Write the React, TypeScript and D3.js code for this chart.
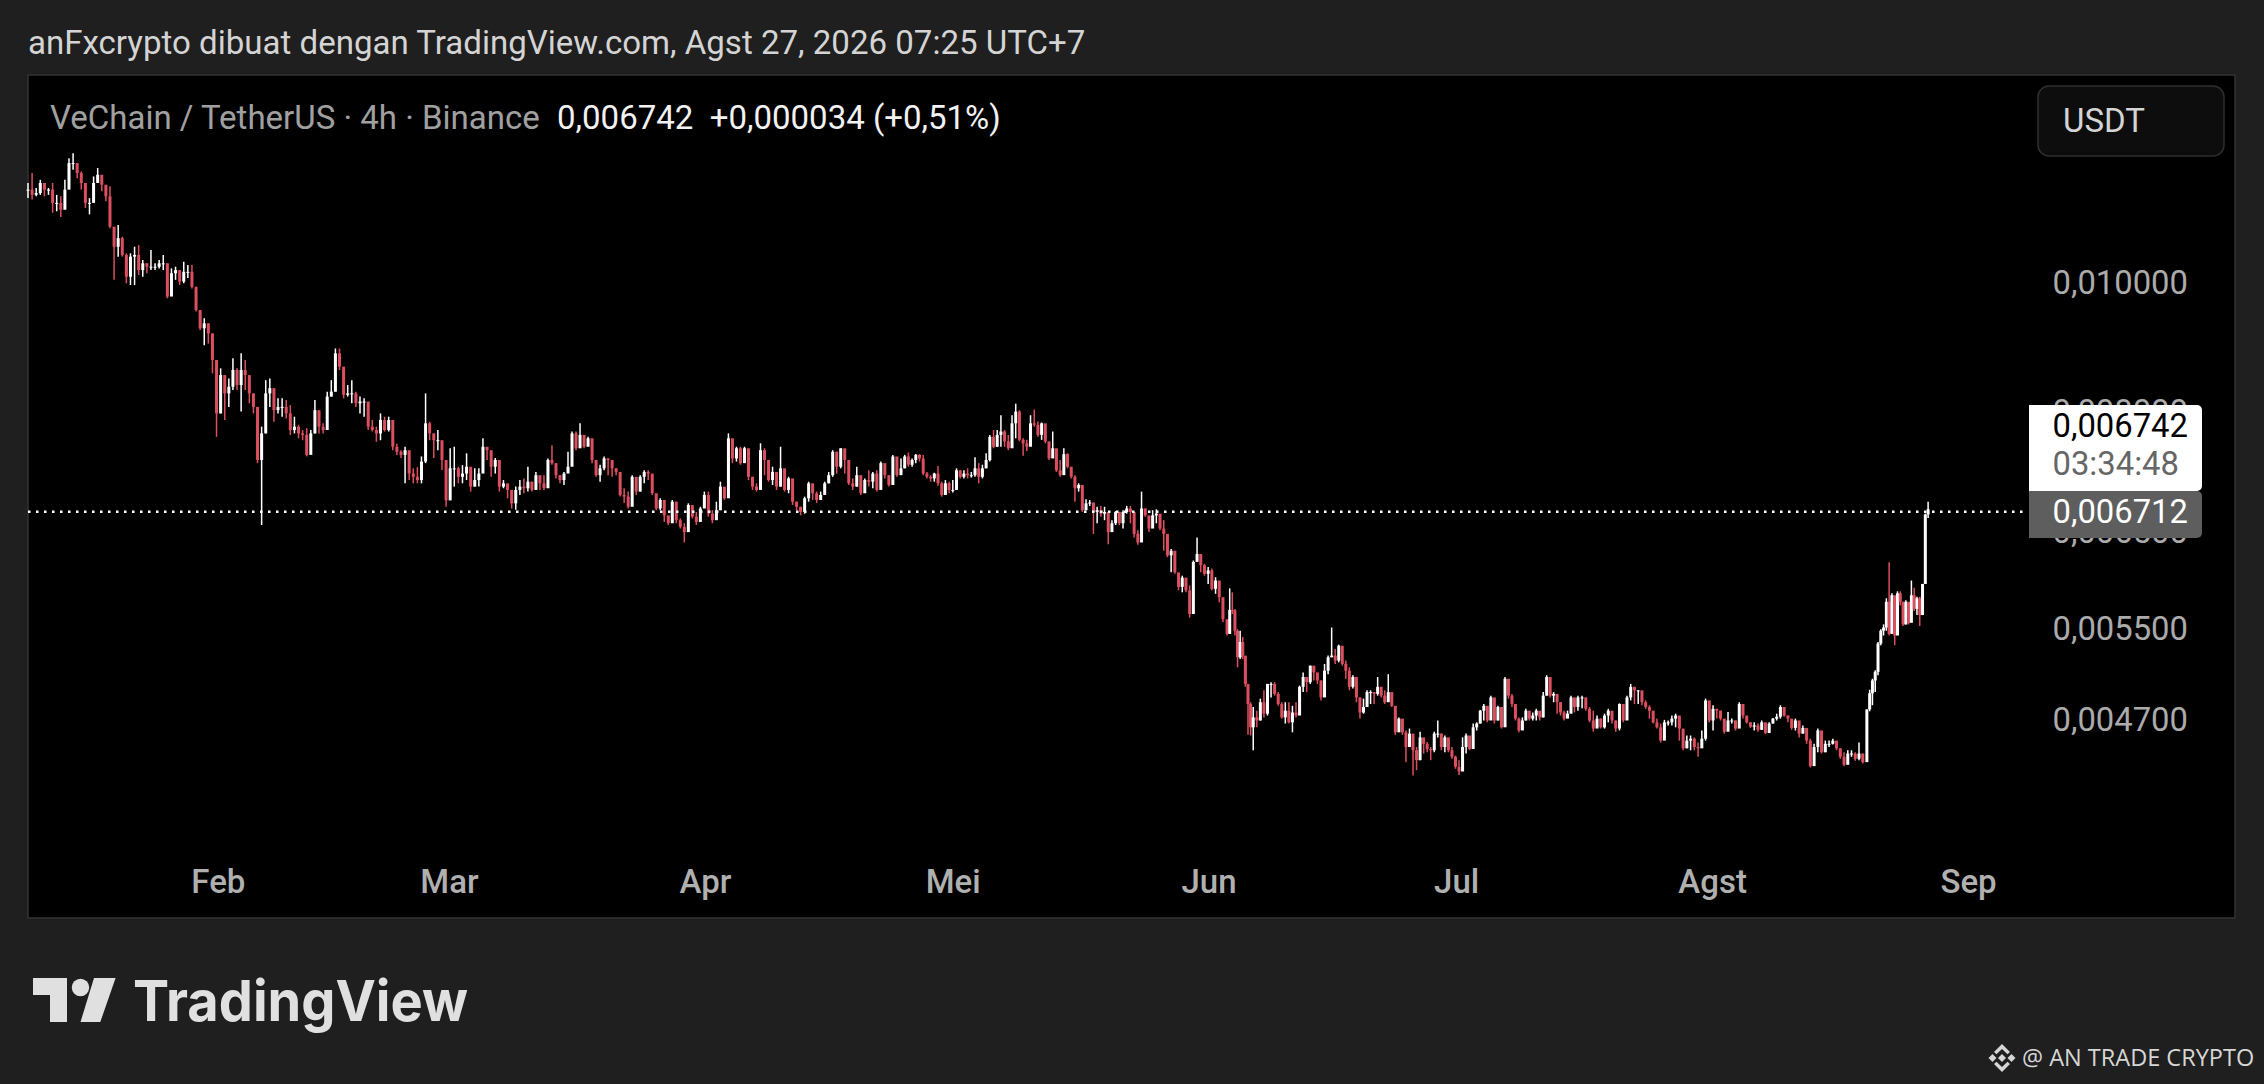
import { useEffect, useRef } from "react";
import { axisBottom, axisRight, formatLocale, scaleLinear, scaleLog, scaleUtc, select } from "d3";

const WIDTH = 2264;
const HEIGHT = 1084;
const PANE = { left: 28, right: 2235, top: 75, bottom: 918 };
const FONT = "Roboto, sans-serif";
const RED = "#dc4f5f";

// prices are in millionths of a USDT
const closes = [
  11710, 11605, 11640, 11845, 11710, 11710, 11445, 11445, 11310, 11710,
  12260, 12260, 12050, 11845, 11445, 11445, 11845, 12015, 11810, 11575,
  10985, 10610, 10770, 10460, 10075, 10430, 10460, 10190, 10310, 10250,
  10250, 10250, 10310, 10310, 9735, 10135, 10190, 9990, 10160, 10160,
  9900, 9510, 9215, 9295, 9135, 8725, 7955, 8500, 8235, 8330,
  8575, 8355, 8575, 8500, 8235, 8045, 7340, 7685, 8235, 8310,
  8000, 8045, 8045, 7955, 7730, 7775, 7685, 7665, 7405, 7685,
  8000, 7775, 7730, 8190, 8260, 8825, 8625, 8215, 8235, 8235,
  8095, 8120, 8120, 7775, 7730, 7685, 7865, 7730, 7865, 7510,
  7445, 7405, 7465, 7170, 7130, 7090, 7320, 7820, 7685, 7595,
  7595, 7340, 6845, 7235, 7235, 7130, 7170, 7255, 7010, 7090,
  7170, 7510, 7465, 7255, 7340, 7010, 7050, 6970, 6810, 6970,
  7010, 6990, 7070, 6970, 7150, 7050, 6990, 7340, 7300, 7150,
  7090, 7170, 7255, 7685, 7490, 7665, 7510, 7620, 7340, 7150,
  7235, 7360, 7340, 7235, 7190, 6910, 6890, 6770, 7130, 6950,
  7130, 7190, 7170, 6930, 6750, 6850, 6670, 6580, 6830, 6615,
  6540, 6480, 6790, 6655, 6595, 6750, 6910, 6690, 6615, 6730,
  7010, 6870, 7620, 7360, 7490, 7300, 7490, 7130, 7010, 6970,
  7465, 7340, 7090, 7190, 7010, 7235, 6970, 7110, 6830, 6770,
  6710, 6870, 7050, 6930, 6850, 6910, 7050, 7150, 7445, 7255,
  7490, 7340, 7050, 7010, 7150, 6930, 7090, 7070, 7170, 6970,
  7300, 7150, 7030, 7385, 7150,
  7235, 7385, 7280, 7340, 7405, 7360, 7170, 7130, 7110, 7170,
  7050, 6910, 7050, 6970, 6970, 7210, 7130, 7170, 7150, 7150,
  7235, 7130, 7235, 7340, 7640, 7510, 7665, 7710, 7580, 7490,
  7820, 7980, 7600, 7555, 7510, 7820, 7800, 7665, 7820, 7580,
  7360, 7490, 7210, 7150, 7415, 7255, 7130, 6990, 7030, 6730,
  6810, 6820, 6710, 6730, 6690, 6710, 6480, 6580, 6710, 6580,
  6710, 6750, 6710, 6460, 6365, 6750, 6670, 6520, 6670, 6690,
  6520, 6460, 6225, 6275, 6045, 5895, 5990, 5860, 5625, 6155,
  6240, 6120, 6030, 6065, 5875, 5960, 5790, 5575,
  5435, 5665, 5660, 5465, 5220, 5360, 5235, 4985, 4815, 4625,
  4705, 4680, 4830, 4735, 4985, 4985, 4900, 4815, 4705, 4760,
  4665, 4745, 4720, 4960, 5045, 5000, 5145, 5085, 5015, 4870,
  5100, 5220, 5235, 5190, 5325, 5160, 5100, 4960, 5045, 4870,
  4745, 4790, 4915, 4915, 4900, 4960, 4885, 4830, 4915, 4800,
  4585, 4695, 4585, 4470, 4575, 4445, 4370, 4545, 4495, 4455,
  4445, 4575, 4575, 4470, 4545, 4445, 4395, 4320, 4285, 4470,
  4560, 4455, 4625, 4655, 4760, 4800, 4680, 4870, 4680, 4790,
  4625, 5030, 4885, 4815, 4695, 4600, 4680, 4760, 4695, 4720,
  4760, 4705, 4885, 5045, 4885, 4900, 4830, 4745, 4695, 4735,
  4870, 4790, 4870,
  4870, 4775, 4680, 4615, 4695, 4625, 4720, 4760, 4680, 4615,
  4815, 4680, 4870, 4960, 4930, 4930, 4830, 4790, 4760, 4665,
  4625, 4520, 4665, 4665, 4695, 4720, 4615, 4460, 4520, 4535,
  4470, 4460, 4535, 4845, 4680, 4775, 4760, 4695, 4590, 4680,
  4680, 4615, 4815, 4720, 4665, 4630, 4640, 4605, 4665, 4580,
  4655, 4695, 4710, 4790, 4720, 4695, 4620, 4680, 4575, 4620,
  4520, 4325, 4470, 4600, 4430, 4495, 4495, 4520, 4460, 4395,
  4335, 4420, 4420, 4380, 4420, 4355,
  4770, 4905, 5015, 5090, 5345, 5465, 5495, 5745, 5435, 5810, 5420, 5830,
  5745, 5525, 5745, 5540, 5810, 5675, 5780, 5615, 5925, 6680, 6742,
];

const highs = [
  11845, 12050, 11745, 11910, 11845, 11745, 11845, 11605, 11575, 11910,
  12365, 12470, 12225, 12085, 11540, 11540, 11980, 12155, 11910, 11710,
  11780, 10860, 11015, 10795, 10490, 10490, 10610, 10640, 10370, 10310,
  10550, 10310, 10370, 10460, 10310, 10220, 10250, 10135, 10340, 10280,
  10280, 9900, 9510, 9375, 9295, 8975, 8525, 8600, 8425, 8450,
  8750, 8600, 8825, 8725, 8475, 8235, 8045, 7775, 8425, 8450,
  8190, 8165, 8165, 8140, 8070, 7910, 7800, 7730, 7755, 7730,
  8140, 7955, 7820, 8260, 8425, 8900, 8900, 8575, 8355, 8425,
  8260, 8190, 8165, 7885, 7865, 7775, 7955, 7910, 7910, 7685,
  7550, 7465, 7510, 7340, 7235, 7250, 7385, 8235, 7840, 7685,
  7730, 7510, 7215, 7490, 7510, 7255, 7275, 7425, 7170, 7235,
  7235, 7620, 7490, 7405, 7365, 7090, 7090, 7010, 6910, 7010,
  7090, 7110, 7255, 7070, 7190, 7110, 7150, 7360, 7530, 7300,
  7150, 7190, 7445, 7710, 7710, 7820, 7640, 7640, 7600, 7320,
  7280, 7385, 7360, 7280, 7235, 7190, 6990, 6950, 7150, 7050,
  7150, 7210, 7210, 7150, 6890, 6870, 6730, 6650, 6850, 6710,
  6635, 6580, 6810, 6750, 6710, 6770, 6950, 6950, 6730, 6830,
  7070, 6990, 7685, 7510, 7510, 7510, 7510, 7445, 7130, 7050,
  7555, 7490, 7170, 7255, 7110, 7510, 7210, 7130, 6950, 6830,
  6770, 6890, 7070, 7010, 6950, 6950, 7070, 7190, 7465, 7445,
  7490, 7360, 7190, 7110, 7255, 7070, 7110, 7210, 7190, 7210,
  7320, 7280, 7130, 7405, 7340,
  7360, 7405, 7435, 7360, 7415, 7415, 7405, 7190, 7150, 7180,
  7265, 7070, 7090, 7070, 7090, 7235, 7210, 7210, 7235, 7190,
  7375, 7300, 7280, 7425, 7665, 7730, 7730, 7930, 7730, 7665,
  7930, 8090, 8000, 7620, 7600, 7930, 8010, 7845, 7830, 7730,
  7510, 7710, 7340, 7340, 7490, 7425, 7235, 7150, 7050, 6890,
  6860, 6850, 6790, 6770, 6780, 6770, 6580, 6615, 6720, 6670,
  6730, 6780, 6780, 6615, 6500, 6950, 6750, 6655, 6730, 6740,
  6655, 6615, 6345, 6295, 6185, 5975, 6010, 5960, 5910, 6170,
  6420, 6170, 6135, 6100, 6085, 5995, 5925, 5790,
  5525, 5880, 5840, 5675, 5480, 5465, 5405, 5160, 4985, 4830,
  4790, 4760, 4860, 4930, 4985, 5000, 5000, 4915, 4830, 4830,
  4830, 4800, 4830, 4970, 5085, 5015, 5145, 5130, 5075, 5015,
  5160, 5235, 5495, 5295, 5335, 5265, 5190, 5130, 5060, 4985,
  4870, 4860, 4930, 4930, 4915, 5045, 4960, 4930, 5070, 4870,
  4720, 4705, 4680, 4600, 4615, 4545, 4470, 4590, 4510, 4510,
  4470, 4590, 4680, 4575, 4560, 4530, 4470, 4405, 4370, 4545,
  4575, 4545, 4655, 4665, 4765, 4815, 4775, 4885, 4775, 4800,
  4760, 5045, 5015, 4900, 4815, 4705, 4705, 4775, 4745, 4745,
  4775, 4745, 4915, 5060, 4970, 4915, 4900, 4830, 4760, 4760,
  4885, 4830, 4885,
  4885, 4870, 4790, 4760, 4720, 4695, 4735, 4775, 4735, 4680,
  4820, 4805, 4885, 4985, 4960, 4930, 4870, 4845, 4805, 4750,
  4695, 4655, 4685, 4680, 4720, 4735, 4695, 4535, 4560, 4560,
  4545, 4505, 4600, 4860, 4790, 4805, 4775, 4760, 4655, 4750,
  4695, 4680, 4830, 4750, 4710, 4665, 4665, 4655, 4680, 4620,
  4665, 4700, 4735, 4805, 4775, 4720, 4680, 4695, 4625, 4640,
  4615, 4535, 4495, 4615, 4545, 4520, 4520, 4535, 4505, 4460,
  4430, 4445, 4445, 4430, 4505, 4420,
  4770, 4935, 5030, 5105, 5360, 5480, 5525, 5780, 6150, 5830, 5760, 5850,
  5850, 5745, 5760, 5655, 5960, 5885, 5795, 5795, 5925, 6690, 6830,
];

const lows = [
  11540, 11510, 11575, 11605, 11575, 11605, 11250, 11280, 11170, 11540,
  12085, 12120, 11945, 11710, 11345, 11220, 11710, 11910, 11675, 11475,
  10955, 10020, 10430, 10430, 9960, 9930, 9930, 10105, 10075, 10135,
  10190, 10190, 10220, 10190, 9705, 9930, 10020, 9930, 9960, 10050,
  9870, 9485, 9190, 8950, 8975, 8525, 7640, 7955, 7865, 8045,
  8285, 8285, 7980, 8285, 8095, 7955, 7300, 6560, 7685, 8045,
  7840, 7955, 7910, 7885, 7665, 7685, 7620, 7595, 7385, 7465,
  7685, 7685, 7685, 7730, 8190, 8260, 8575, 8165, 8190, 8095,
  8045, 7955, 7910, 7730, 7710, 7575, 7595, 7710, 7710, 7465,
  7405, 7365, 7050, 7090, 7050, 7050, 7050, 7300, 7595, 7365,
  7465, 7215, 6770, 7050, 7010, 7050, 7050, 7090, 6950, 7010,
  7010, 7215, 7340, 7130, 7170, 6950, 6990, 6870, 6750, 6735,
  6910, 6930, 6950, 6950, 7010, 6970, 6970, 7090, 7280, 7110,
  7050, 7030, 7190, 7300, 7465, 7620, 7490, 7530, 7300, 7130,
  7070, 7210, 7150, 7130, 7150, 6890, 6815, 6750, 6790, 6910,
  6950, 7050, 7090, 6910, 6730, 6730, 6595, 6560, 6670, 6580,
  6520, 6365, 6655, 6635, 6560, 6655, 6770, 6655, 6580, 6690,
  6730, 6850, 6890, 7300, 7320, 7280, 7405, 7090, 6970, 6950,
  6990, 7150, 7070, 7030, 6970, 7010, 6950, 6930, 6790, 6730,
  6670, 6690, 6830, 6850, 6815, 6850, 6910, 7050, 7130, 7170,
  7235, 7170, 7030, 6970, 7010, 6910, 6990, 7010, 6990, 6950,
  7090, 7110, 7010, 7130, 7130,
  7210, 7235, 7255, 7255, 7300, 7320, 7150, 7110, 7070, 7070,
  7020, 6890, 6910, 6930, 6940, 6970, 7110, 7110, 7110, 7120,
  7130, 7050, 7110, 7235, 7320, 7490, 7510, 7510, 7510, 7465,
  7600, 7620, 7580, 7395, 7455, 7640, 7775, 7640, 7600, 7555,
  7340, 7465, 7190, 7130, 7190, 7235, 7110, 6830, 6950, 6710,
  6730, 6780, 6460, 6580, 6655, 6615, 6345, 6500, 6560, 6560,
  6520, 6690, 6580, 6420, 6340, 6500, 6655, 6480, 6615, 6580,
  6500, 6275, 6205, 6045, 6030, 5860, 5840, 5840, 5590, 5790,
  6205, 6045, 6010, 5925, 5860, 5825, 5740, 5545,
  5420, 5435, 5625, 5420, 5130, 5205, 5205, 4960, 4565, 4560,
  4445, 4625, 4680, 4705, 4720, 4870, 4885, 4800, 4695, 4655,
  4655, 4585, 4705, 4870, 4915, 4915, 4985, 5015, 4985, 4845,
  4960, 5070, 5220, 5160, 5175, 5145, 5030, 4930, 4945, 4830,
  4695, 4735, 4790, 4815, 4815, 4885, 4870, 4815, 4885, 4790,
  4565, 4600, 4565, 4355, 4470, 4255, 4295, 4370, 4420, 4430,
  4370, 4430, 4545, 4445, 4430, 4430, 4380, 4305, 4260, 4395,
  4420, 4445, 4520, 4600, 4655, 4680, 4665, 4705, 4655, 4680,
  4615, 4655, 4860, 4790, 4680, 4585, 4640, 4680, 4680, 4680,
  4680, 4680, 4705, 4885, 4870, 4830, 4735, 4720, 4680, 4705,
  4760, 4745, 4760,
  4780, 4760, 4665, 4590, 4655, 4615, 4615, 4665, 4655, 4590,
  4600, 4665, 4695, 4845, 4815, 4815, 4805, 4775, 4695, 4655,
  4615, 4505, 4560, 4640, 4640, 4625, 4520, 4445, 4460, 4445,
  4445, 4395, 4470, 4520, 4665, 4600, 4695, 4680, 4575, 4615,
  4655, 4600, 4625, 4695, 4655, 4620, 4600, 4590, 4605, 4570,
  4605, 4655, 4680, 4695, 4710, 4665, 4605, 4600, 4545, 4575,
  4495, 4315, 4420, 4430, 4420, 4430, 4470, 4490, 4445, 4380,
  4325, 4380, 4395, 4365, 4370, 4345,
  4360, 4755, 4805, 4915, 5060, 5330, 5420, 5465, 5420, 5525, 5330, 5590,
  5710, 5510, 5525, 5525, 5655, 5655, 5615, 5510, 5615, 5925, 6640,
];

// which candle falls on which date, the series is not read at an even step
const anchorIndex = [0, 119, 120, 214, 215, 302, 303, 313, 335, 384, 405, 406, 481, 482, 504];
const anchorDates = [
  Date.UTC(2026, 0, 9, 0),
  Date.UTC(2026, 2, 9, 2),
  Date.UTC(2026, 2, 9, 14),
  Date.UTC(2026, 3, 24, 6),
  Date.UTC(2026, 3, 24, 18),
  Date.UTC(2026, 5, 2, 18),
  Date.UTC(2026, 5, 3, 6),
  Date.UTC(2026, 5, 6, 10),
  Date.UTC(2026, 5, 15, 22),
  Date.UTC(2026, 6, 6, 22),
  Date.UTC(2026, 6, 15, 18),
  Date.UTC(2026, 6, 16, 6),
  Date.UTC(2026, 7, 19, 6),
  Date.UTC(2026, 7, 19, 18),
  Date.UTC(2026, 7, 27, 4),
];

const monthLabels = ["Feb", "Mar", "Apr", "Mei", "Jun", "Jul", "Agst", "Sep"];
const monthDates = monthLabels.map((_, i) => new Date(Date.UTC(2026, i + 1, 1)));
const priceTicks = [0.01, 0.008, 0.0065, 0.0055, 0.0047];
const lastPrice = 0.006742;
const markPrice = 0.006712;

const idFormat = formatLocale({
  decimal: ",",
  thousands: ".",
  grouping: [3],
  currency: ["", ""],
}).format(".6f");

const timeOfIndex = scaleLinear().domain(anchorIndex).range(anchorDates);
const x = scaleUtc()
  .domain([new Date(Date.UTC(2026, 0, 9)), new Date(Date.UTC(2026, 8, 1))])
  .range([28, 1968]);
const y = scaleLog().domain([0.01, 0.0047]).range([281, 718]);

const candles = closes.map((close, i) => ({
  x: x(new Date(timeOfIndex(i))),
  open: (i > 0 ? closes[i - 1] : close) / 1e6,
  close: close / 1e6,
  high: highs[i] / 1e6,
  low: lows[i] / 1e6,
}));

function BinanceMark({ cx, cy }: { cx: number; cy: number }) {
  return (
    <g transform={`translate(${cx}, ${cy})`} fill="#d6d6d6">
      <path d="M0,-4 L4,0 L0,4 L-4,0 Z" />
      <path d="M-9.5,-4 L-5.5,0 L-9.5,4 L-13.5,0 Z" />
      <path d="M9.5,-4 L13.5,0 L9.5,4 L5.5,0 Z" />
      <path d="M0,-14 L8,-6 L5.5,-3.7 L0,-9 L-5.5,-3.7 L-8,-6 Z" />
      <path d="M0,14 L8,6 L5.5,3.7 L0,9 L-5.5,3.7 L-8,6 Z" />
    </g>
  );
}

export default function App() {
  const priceAxisRef = useRef<SVGGElement>(null);
  const timeAxisRef = useRef<SVGGElement>(null);

  useEffect(() => {
    if (priceAxisRef.current) {
      const g = select(priceAxisRef.current);
      g.call(
        axisRight(y)
          .tickValues(priceTicks)
          .tickFormat((d) => idFormat(d as number))
          .tickSize(0)
          .tickPadding(0)
      );
      g.select(".domain").remove();
      g.selectAll("text")
        .attr("fill", "#ababab")
        .style("font-family", FONT)
        .style("font-size", "32.8px");
    }
    if (timeAxisRef.current) {
      const g = select(timeAxisRef.current);
      g.call(
        axisBottom(x)
          .tickValues(monthDates)
          .tickFormat((_, i) => monthLabels[i])
          .tickSize(0)
          .tickPadding(0)
      );
      g.select(".domain").remove();
      g.selectAll("text")
        .attr("fill", "#b0b0b0")
        .style("font-family", FONT)
        .style("font-size", "33px")
        .style("font-weight", "500");
    }
  }, []);

  return (
    <svg
      width={WIDTH}
      height={HEIGHT}
      style={{ position: "absolute", left: 0, top: 0, display: "block" }}
      fontFamily={FONT}
    >
      <rect width={WIDTH} height={HEIGHT} fill="#1f1f1f" />
      <text x={28} y={54} fontSize={33.05} fill="#d4d4d4">
        anFxcrypto dibuat dengan TradingView.com, Agst 27, 2026 07:25 UTC+7
      </text>

      <rect
        x={PANE.left}
        y={PANE.top}
        width={PANE.right - PANE.left}
        height={PANE.bottom - PANE.top}
        fill="#000"
        stroke="#333"
        strokeWidth={1.5}
      />

      <text x={50} y={129} fontSize={33} fill="#a0a0a0">
        VeChain / TetherUS · 4h · Binance
      </text>
      <text x={557} y={129} fontSize={33} fill="#f2f2f2" xmlSpace="preserve">
        0,006742  +0,000034 (+0,51%)
      </text>

      <rect x={2038} y={86} width={186} height={70} rx={11} fill="#0d0d0d" stroke="#2e2e2e" strokeWidth={1.5} />
      <text x={2063} y={132} fontSize={33} fill="#d4d4d4">USDT</text>

      <g>
        {candles.map((d, i) => {
          const color = d.close >= d.open ? "#fff" : RED;
          const top = y(Math.max(d.open, d.close));
          const bottom = y(Math.min(d.open, d.close));
          return (
            <g key={i}>
              <line x1={d.x} x2={d.x} y1={y(d.high)} y2={y(d.low)} stroke={color} strokeWidth={1.5} />
              <rect x={d.x - 1.5} y={top} width={3} height={Math.max(bottom - top, 1)} fill={color} />
            </g>
          );
        })}
      </g>

      <line
        x1={PANE.left}
        x2={2024}
        y1={y(markPrice)}
        y2={y(markPrice)}
        stroke="#fff"
        strokeWidth={2.5}
        strokeDasharray="2.5 5.5"
      />

      <g ref={priceAxisRef} transform="translate(2052.5, 1.5)" />
      <g ref={timeAxisRef} transform="translate(0, 870)" />

      <path d="M2029,405 H2197 a5,5 0 0 1 5,5 V486 a5,5 0 0 1 -5,5 H2029 Z" fill="#fff" />
      <path d="M2029,491 H2197 a5,5 0 0 1 5,5 V533 a5,5 0 0 1 -5,5 H2029 Z" fill="#5e5e5e" />
      <text x={2052.5} y={437} fontSize={32.8} fill="#000">{idFormat(lastPrice)}</text>
      <text x={2052.5} y={475} fontSize={32.8} fill="#666">03:34:48</text>
      <text x={2052.5} y={523} fontSize={32.8} fill="#fff">{idFormat(markPrice)}</text>

      <g fill="#e0e0e0">
        <path d="M33,978 H67 V1022 H50 V995 H33 Z" />
        <circle cx={80.5} cy={987.5} r={8.7} />
        <path d="M94,978 H115.6 L100.3,1022 H80.5 Z" />
        <text x={133} y={1021} fontSize={56} fontFamily="Inter, sans-serif" fontWeight={700} textLength={335} lengthAdjust="spacingAndGlyphs">
          TradingView
        </text>
      </g>

      <BinanceMark cx={2002} cy={1058} />
      <text x={2022} y={1066} fontSize={23.5} fontFamily="'Open Sans', sans-serif" fill="#d6d6d6">
        @ AN TRADE CRYPTO
      </text>
    </svg>
  );
}
